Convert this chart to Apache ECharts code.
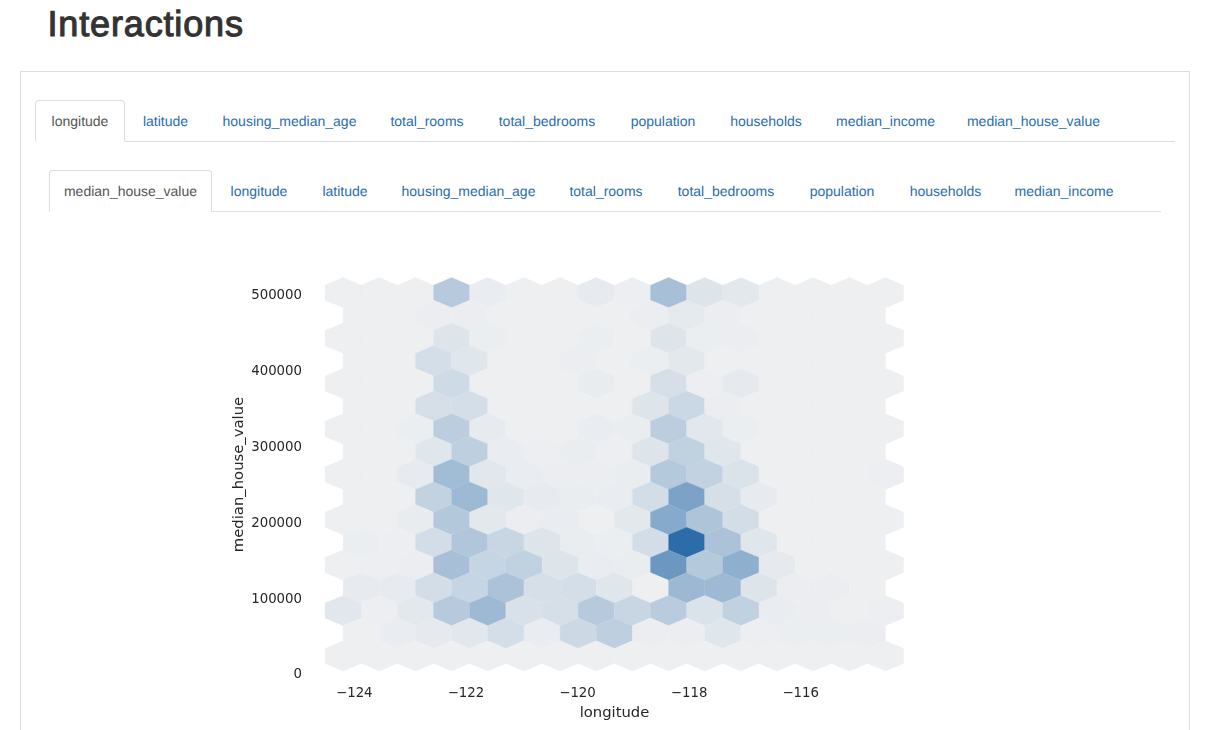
<!DOCTYPE html>
<html>
<head>
<meta charset="utf-8">
<style>
  html, body { margin: 0; height: 100%; overflow: hidden; background: #fff; }
  body { position: relative; width: 1209px; height: 730px; font-family: "Liberation Sans", Arial, sans-serif; font-size: 14px; text-rendering: geometricPrecision; }
  h1 { position: absolute; left: 47.5px; top: 3px; margin: 0; font-size: 36px; line-height: 42px; font-weight: normal; letter-spacing: 0.85px; -webkit-text-stroke: 1.1px #333; color: #333; }
  #box { position: absolute; left: 20px; top: 71px; width: 1168px; height: 800px; border: 1px solid #ddd; }
  .tabs { position: absolute; height: 41px; border-bottom: 1px solid #ddd; display: flex; }
  .tabs a { display: block; box-sizing: border-box; height: 42px; margin-right: 2px; padding: 10px 0; text-align: center; line-height: 20px; border: 1px solid transparent; border-radius: 4px 4px 0 0; color: #2a6db0; white-space: nowrap; }
  .tabs a.active { color: #555; background: #fff; border-color: #ddd #ddd #fff; }
  #tabs1 { left: 35px; top: 100px; width: 1140px; }
  #tabs2 { left: 49px; top: 170px; width: 1112px; }
  #tabs1 a.active { margin-right: 1px; }
  #chart { position: absolute; left: 0; top: 0; width: 1209px; height: 730px; }
</style>
</head>
<body>
<h1>Interactions</h1>
<div id="box"></div>
<div id="tabs1" class="tabs"></div>
<div id="tabs2" class="tabs"></div>
<div id="chart"></div>

<script src="https://cdn.jsdelivr.net/npm/echarts@6/dist/echarts.min.js"></script>
<script>
var outerTabs = ["longitude", "latitude", "housing_median_age", "total_rooms", "total_bedrooms", "population", "households", "median_income", "median_house_value"];
var innerTabs = ["median_house_value", "longitude", "latitude", "housing_median_age", "total_rooms", "total_bedrooms", "population", "households", "median_income"];
var outerTabWidths = [90, 79, 165, 106, 130, 98, 104, 131, 161];
var innerTabWidths = [163, 90, 78, 165, 106, 130, 98, 105, 128];

var xTicks = [-124, -122, -120, -118, -116];
var yTicks = [0, 100000, 200000, 300000, 400000, 500000];

// hexbin lattice: first column / top row centre and spacing, in data units
var lonStart = -124.2;
var lonStep = 0.648;
var valueTop = 501700;
var valueStep = 29950;

// cell density (0-100), top row first.
// even rows have 16 cells, odd rows are shifted half a cell and have 15
var row0 = [0, 0, 0.2, 28, 2, 0, 0, 3, 0.5, 36, 8, 5, 0, 0, 0, 0];
var row1 = [0, 0, 1.2, 1.2, 0.2, 0.2, 0.2, 0.2, 1.2, 4, 1.2, 0, 0, 0, 0];
var row2 = [0, 0, 0, 8, 0.8, 0.2, 0, 0.8, 0.2, 8, 0.8, 1.2, 0, 0, 0, 0];
var row3 = [0, 0, 13, 7, 0, 0, 1.2, 0.2, 0.8, 5, 0.2, 0, 0, 0, 0];
var row4 = [0, 0, 0, 16, 0.2, 0, 0, 2.5, 0.2, 12, 0.5, 3.5, 0, 0, 0, 0];
var row5 = [0, 0, 12, 13, 0, 0.2, 0.2, 0.1, 8, 18, 1.2, 0, 0, 0, 0];
var row6 = [0, 0, 0.8, 26, 3, 0.2, 0, 2, 1.5, 26, 6, 0.8, 0, 0, 0, 0];
var row7 = [0, 0, 7, 24, 2, 0.5, 1.5, 0.5, 8, 23, 7, 0.2, 0, 0, 0];
var row8 = [0, 0, 3, 39, 6, 2, 1.2, 1.2, 1.5, 29, 22, 10, 0.2, 0, 0, 0.5];
var row9 = [0, 0, 22, 41, 7, 3, 1.5, 2, 14, 58, 12, 3, 0.2, 0.2, 0];
var row10 = [0, 0, 2.5, 30, 5, 1.2, 2, 0.2, 5, 53, 33, 14, 0.2, 0, 0, 0];
var row11 = [0.8, 0.5, 14, 31, 19, 8, 1.5, 0.8, 14, 100, 34, 7, 0.2, 0, 0];
var row12 = [0.2, 0.5, 1.2, 36, 20, 23, 8, 2, 1.5, 67, 29, 49, 3.5, 0.2, 0, 0];
var row13 = [3, 3, 14, 20, 34, 12, 13, 7, 0.2, 42, 41, 8, 1.2, 1.2, 0.2];
var row14 = [6, 0.5, 5, 28, 41, 11, 12, 28, 19, 27, 10, 23, 2, 1.2, 0.2, 0.5];
var row15 = [0.2, 2, 3.5, 6, 13, 2, 17, 24, 1.2, 1.2, 7, 0.5, 0.8, 0.8, 1.2];
var row16 = [0, 0, 0, 0.1, 0.1, 0, 0, 0.1, 0.1, 0.1, 0.1, 0.1, 0.1, 0.1, 0.1, 0.1];

var rows = [row0, row1, row2, row3, row4, row5, row6, row7, row8, row9, row10, row11, row12, row13, row14, row15, row16];

function buildTabs(id, names, widths) {
	var el = document.getElementById(id);
	names.forEach(function (name, i) {
		var a = document.createElement("a");
		a.textContent = name;
		a.style.width = widths[i] + "px";
		if (i === 0) a.className = "active";
		el.appendChild(a);
	});
}
buildTabs("tabs1", outerTabs, outerTabWidths);
buildTabs("tabs2", innerTabs, innerTabWidths);

var cells = [];
rows.forEach(function (row, r) {
	var shift = r % 2 ? lonStep / 2 : 0;
	row.forEach(function (density, c) {
		cells.push([lonStart + shift + c * lonStep, valueTop - r * valueStep, density]);
	});
});

function renderHex(params, api) {
	var center = api.coord([api.value(0), api.value(1)]);
	var size = api.size([lonStep, valueStep]);
	var hw = size[0] / 2;
	var s = size[1] / 1.5;
	var color = api.visual("color");
	return {
		type: "polygon",
		shape: {
			points: [
				[center[0], center[1] - s],
				[center[0] + hw, center[1] - s / 2],
				[center[0] + hw, center[1] + s / 2],
				[center[0], center[1] + s],
				[center[0] - hw, center[1] + s / 2],
				[center[0] - hw, center[1] - s / 2]
			]
		},
		style: { fill: color, stroke: color, lineWidth: 0.3 }
	};
}

var labelFont = { color: "#262626", fontFamily: "DejaVu Sans", fontSize: 13.3 };
var nameFont = { color: "#262626", fontFamily: "DejaVu Sans", fontSize: 14.8 };

var myChart = echarts.init(document.getElementById("chart"));
myChart.setOption({
	animation: false,
	grid: { left: 325, top: 268, width: 579, height: 413 },
	visualMap: {
		show: false,
		type: "continuous",
		dimension: 2,
		min: 0,
		max: 100,
		inRange: { color: ["#edeff1", "#2b6ca9"] }
	},
	xAxis: {
		type: "value",
		min: -124.525,
		max: -114.149,
		splitLine: { show: false },
		axisLine: { show: false },
		axisTick: { show: false },
		axisLabel: Object.assign({
			customValues: xTicks,
			margin: 6,
			formatter: function (v) { return String(v).replace("-", "\u2212"); }
		}, labelFont),
		name: "longitude",
		nameLocation: "middle",
		nameGap: 25,
		nameTextStyle: nameFont
	},
	yAxis: {
		type: "value",
		min: -10554,
		max: 534300,
		splitLine: { show: false },
		axisLine: { show: false },
		axisTick: { show: false },
		axisLabel: {
			customValues: yTicks,
			margin: 23,
			formatter: function (v) { return "{t|" + v + "}"; },
			rich: { t: Object.assign({ padding: [4, 0, 0, 0] }, labelFont) }
		},
		name: "median_house_value",
		nameLocation: "middle",
		nameGap: 78,
		nameTextStyle: nameFont
	},
	series: [{
		type: "custom",
		coordinateSystem: "cartesian2d",
		renderItem: renderHex,
		encode: { x: 0, y: 1 },
		data: cells,
		clip: false
	}]
});
</script>
</body>
</html>
